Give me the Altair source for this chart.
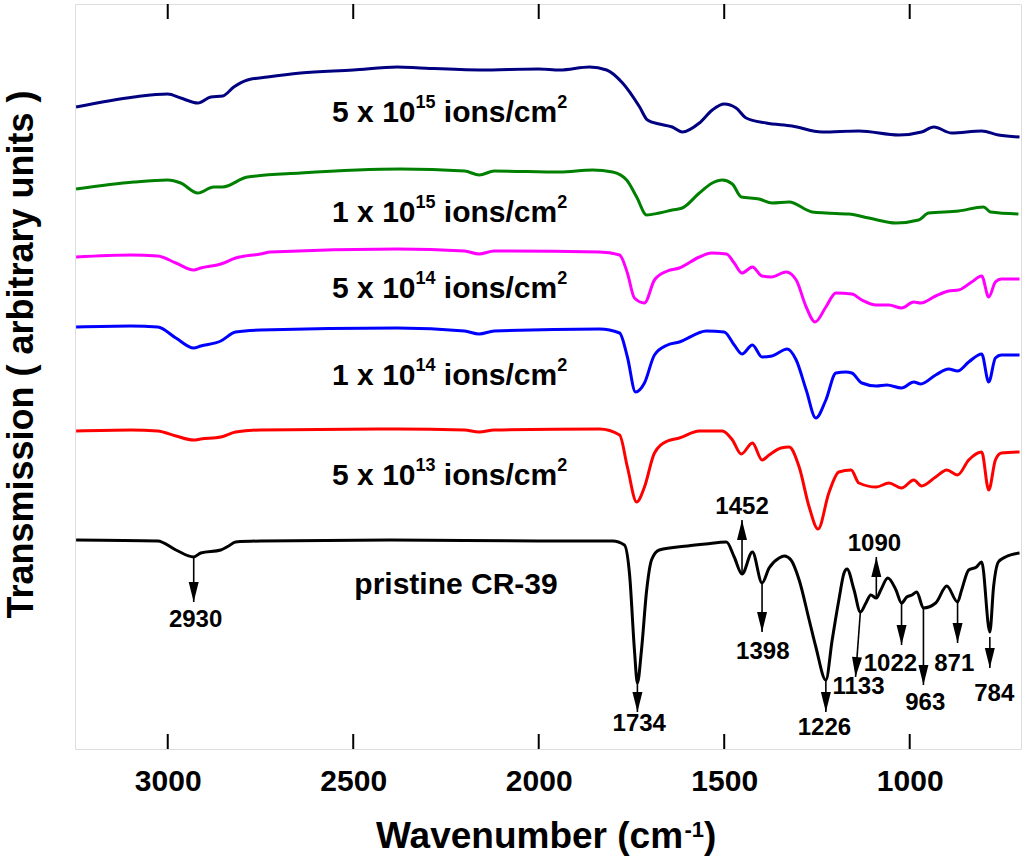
import math
import altair as alt
import pandas as pd

FONT = "Liberation Sans"
WN_MIN, WN_MAX = 700, 3250
PLOT_W, PLOT_H = 946, 745
PX_PER_WN = PLOT_W / (WN_MAX - WN_MIN)

# ---- spectra: wavenumber (cm-1) and transmission (arbitrary, stacked) ----
navy_wn = [3247, 3091, 3000, 2965, 2919, 2884, 2852, 2822, 2785, 2731, 2642, 2500, 2381, 2320, 2160, 2000,
           1943, 1863, 1817, 1774, 1728, 1707, 1675, 1640, 1613, 1567, 1532, 1500, 1468, 1441, 1387, 1317,
           1236, 1137, 1029, 968, 935, 887, 806, 761, 704]
navy_t = [642, 652, 655, 651, 646, 652, 653, 662, 669, 672, 676, 679, 682, 681, 679, 680,
          679, 682, 679, 666, 642, 629, 625, 622, 617, 626, 639, 645, 641, 631, 626, 623,
          617, 618, 614, 617, 622, 616, 618, 614, 612]

green_wn = [3247, 3091, 3000, 2965, 2919, 2876, 2852, 2785, 2642, 2373, 2200, 2160, 2120, 1943, 1855, 1801,
            1763, 1736, 1709, 1675, 1640, 1613, 1567, 1532, 1505, 1478, 1454, 1406, 1371, 1325, 1263, 1226,
            1164, 1110, 1037, 976, 949, 868, 801, 782, 707]
green_t = [560, 567, 569, 566, 556, 562, 562, 572, 576, 580, 578, 574, 578, 577, 579, 577,
           569, 552, 534, 536, 539, 541, 556, 566, 569, 565, 552, 550, 546, 547, 537, 536,
           535, 531, 526, 529, 536, 538, 542, 537, 535]

magenta_wn = [3247, 3100, 3027, 2978, 2930, 2911, 2857, 2817, 2750, 2723, 2381, 2200, 2161, 2120, 1836, 1782,
              1761, 1742, 1715, 1688, 1653, 1621, 1567, 1535, 1494, 1473, 1452, 1424, 1398, 1373, 1333, 1306,
              1279, 1255, 1226, 1199, 1156, 1129, 1090, 1056, 1022, 989, 970, 930, 895, 868, 833, 806,
              787, 769, 753, 704]
magenta_t = [492, 494, 493, 486, 479, 481, 485, 491, 495, 497, 500, 498, 495, 498, 497, 494,
             476, 451, 446, 469, 478, 481, 492, 496, 495, 486, 476, 482, 473, 472, 477, 469,
             442, 427, 442, 456, 455, 449, 444, 444, 441, 447, 446, 453, 458, 459, 467, 473,
             452, 467, 470, 470]

blue_wn = [3247, 3100, 3027, 2978, 2930, 2911, 2857, 2817, 2750, 2381, 2200, 2161, 2120, 1836, 1782, 1761,
           1739, 1715, 1688, 1653, 1621, 1548, 1500, 1473, 1452, 1424, 1398, 1371, 1330, 1306, 1279, 1253,
           1226, 1199, 1172, 1156, 1129, 1090, 1062, 1022, 989, 970, 930, 895, 871, 841, 806, 787,
           769, 753, 704]
blue_t = [422, 423, 422, 411, 401, 403, 408, 417, 419, 421, 418, 415, 418, 420, 416, 392,
          357, 366, 394, 404, 407, 418, 417, 404, 395, 404, 392, 393, 400, 389, 359, 331,
          349, 376, 377, 376, 366, 363, 364, 361, 367, 365, 374, 380, 378, 387, 395, 367,
          391, 394, 394]

red_wn = [3247, 3100, 3027, 2978, 2930, 2911, 2857, 2817, 2750, 2381, 2200, 2161, 2120, 1836, 1782, 1761,
          1736, 1715, 1688, 1653, 1621, 1567, 1505, 1478, 1454, 1424, 1398, 1379, 1347, 1325, 1298, 1271,
          1247, 1218, 1191, 1158, 1137, 1090, 1056, 1022, 989, 968, 930, 900, 871, 841, 806, 787,
          769, 753, 704]
red_t = [318, 319, 318, 313, 309, 310, 312, 317, 319, 320, 319, 317, 319, 320, 314, 282,
         247, 262, 296, 308, 311, 318, 318, 309, 295, 306, 289, 294, 301, 302, 282, 242,
         220, 256, 277, 279, 266, 262, 266, 261, 269, 263, 272, 279, 274, 289, 297, 259,
         289, 296, 297]

black_wn = [3247, 3027, 2978, 2930, 2911, 2857, 2836, 2817, 2750, 2400, 2000, 1801, 1769, 1755, 1742, 1734,
            1723, 1709, 1696, 1675, 1599, 1550, 1494, 1473, 1452, 1424, 1398, 1379, 1352, 1338, 1320, 1298,
            1271, 1253, 1226, 1209, 1191, 1177, 1169, 1150, 1133, 1118, 1105, 1090, 1078, 1059, 1037, 1022,
            1008, 994, 981, 963, 930, 900, 871, 860, 841, 820, 806, 784, 774, 761, 742, 704]
black_t = [209, 208, 199, 192, 196, 199, 203, 207, 208, 209, 208, 208, 204, 174, 99, 66,
           99, 159, 189, 199, 203, 205, 207, 192, 175, 197, 166, 181, 191, 193, 189, 169,
           129, 102, 69, 109, 149, 176, 180, 159, 137, 146, 154, 151, 159, 171, 159, 146,
           152, 154, 157, 141, 146, 163, 147, 159, 179, 182, 187, 117, 162, 187, 192, 196]

series_names = ["5e15", "1e15", "5e14", "1e14", "5e13", "pristine"]
series_colors = ["#000080", "#008000", "#FF00FF", "#0000FF", "#FF0000", "#000000"]
series_data = [(navy_wn, navy_t), (green_wn, green_t), (magenta_wn, magenta_t),
               (blue_wn, blue_t), (red_wn, red_t), (black_wn, black_t)]

# ---- fluence labels ----
label_coef = ["5", "1", "5", "1", "5"]
label_exp = ["15", "15", "14", "14", "13"]
label_wn = [2557, 2557, 2557, 2557, 2557]
label_t = [627, 527, 451, 364, 264]

# ---- band assignments (arrows on the pristine spectrum) ----
band_text = ["2930", "1734", "1452", "1398", "1226", "1133", "1090", "1022", "963", "871", "784"]
arrow_wn0 = [2930, 1734, 1452, 1398, 1226, 1133, 1090, 1022, 963, 871, 784]
arrow_t0 = [192, 66, 175, 166, 69, 137, 151, 146, 141, 147, 112]
arrow_wn1 = [2930, 1734, 1452, 1398, 1226, 1146, 1090, 1022, 963, 871, 784]
arrow_t1 = [147, 37, 229, 117, 37, 72, 192, 104, 64, 106, 81]
band_label_wn = [2925, 1729, 1452, 1396, 1230, 1138, 1095, 1052, 958, 880, 772]
band_label_t = [129, 25, 242, 97, 21, 62, 205, 85, 46, 85, 55]

tick_values = [3000, 2500, 2000, 1500, 1000]

# ---- tables ----
rows = []
for name, (wns, ts) in zip(series_names, series_data):
    for w, t in zip(wns, ts):
        rows.append({"series": name, "wn": w, "t": t})
spectra = pd.DataFrame(rows)

labels = pd.DataFrame({
    "wn": label_wn, "t": label_t,
    "lead": [c + " x 10" for c in label_coef],
    "exp": label_exp,
    "mid": ["ions/cm"] * len(label_coef),
    "sq": ["2"] * len(label_coef),
})

HEAD = 10  # half length of arrowhead in px
arrow_rows = []
for i in range(len(band_text)):
    dxp = -(arrow_wn1[i] - arrow_wn0[i]) * PX_PER_WN
    dyp = -(arrow_t1[i] - arrow_t0[i])
    n = math.hypot(dxp, dyp)
    ux, uy = dxp / n, dyp / n
    arrow_rows.append({
        "label": band_text[i],
        "wn0": arrow_wn0[i], "t0": arrow_t0[i],
        "wn1": arrow_wn1[i], "t1": arrow_t1[i],
        "hwn": arrow_wn1[i] + HEAD * ux / PX_PER_WN,
        "ht": arrow_t1[i] + HEAD * uy,
        "angle": math.degrees(math.atan2(-ux, uy)) % 360,
        "lwn": band_label_wn[i], "lt": band_label_t[i],
    })
arrows = pd.DataFrame(arrow_rows)
ticks = pd.DataFrame({"wn": tick_values})
one = pd.DataFrame({"k": [0]})

# ---- scales / axes ----
x_scale = alt.Scale(domain=[WN_MIN, WN_MAX], reverse=True, nice=False, zero=False)
y_scale = alt.Scale(domain=[0, PLOT_H], nice=False, zero=False)
x_axis = alt.Axis(values=tick_values, format="d", labelFont=FONT, labelFontSize=30,
                  labelFontWeight="bold", labelColor="black", labelBaseline="alphabetic",
                  labelPadding=41, labelFlush=False, ticks=False, tickSize=0,
                  domain=False, grid=False, title=None)
y_axis = alt.Axis(labels=False, ticks=False, tickSize=0, domain=False, grid=False,
                  title="Transmission ( arbitrary units )", titleFont=FONT, titleFontSize=36,
                  titleFontWeight="bold", titleColor="black", titleAngle=270,
                  titleAlign="center", titleBaseline="alphabetic", titleX=-43, titleY=350)


def X(field="wn"):
    return alt.X(f"{field}:Q", scale=x_scale, axis=x_axis)


def Y(field="t"):
    return alt.Y(f"{field}:Q", scale=y_scale, axis=y_axis)


lines = alt.Chart(spectra).mark_line(strokeWidth=3, interpolate="monotone").encode(
    x=X(), y=Y(),
    color=alt.Color("series:N", scale=alt.Scale(domain=series_names, range=series_colors), legend=None),
)

bottom_ticks = alt.Chart(ticks).mark_rule(color="black", strokeWidth=2).encode(
    x=X(), y=alt.value(PLOT_H), y2=alt.value(PLOT_H - 15))
top_ticks = alt.Chart(ticks).mark_rule(color="black", strokeWidth=2).encode(
    x=X(), y=alt.value(0), y2=alt.value(15))

txt = dict(font=FONT, fontWeight="bold", color="black", align="left", baseline="alphabetic")
W_LEAD = 2780 * 30 / 1000     # "5 x 10" in 30px bold
W_EXP = 1112 * 18 / 1000      # "15" in 18px bold
W_SPACE = 278 * 30 / 1000     # word space in 30px bold
W_MID = 3779 * 30 / 1000      # "ions/cm" in 30px bold
lead = alt.Chart(labels).mark_text(fontSize=30, **txt).encode(x=X(), y=Y(), text="lead:N")
exp = alt.Chart(labels).mark_text(fontSize=18, dx=W_LEAD, dy=-14, **txt).encode(x=X(), y=Y(), text="exp:N")
mid = alt.Chart(labels).mark_text(fontSize=30, dx=W_LEAD + W_EXP + W_SPACE, **txt).encode(
    x=X(), y=Y(), text="mid:N")
sq = alt.Chart(labels).mark_text(fontSize=18, dx=W_LEAD + W_EXP + W_SPACE + W_MID, dy=-14, **txt).encode(
    x=X(), y=Y(), text="sq:N")

pristine = alt.Chart(pd.DataFrame({"wn": [2497], "t": [155], "s": ["pristine CR-39"]})).mark_text(
    fontSize=30, **txt).encode(x=X(), y=Y(), text="s:N")

shafts = alt.Chart(arrows).mark_rule(color="black", strokeWidth=1.6).encode(
    x=X("wn0"), x2="wn1:Q", y=Y("t0"), y2="t1:Q")
heads = alt.Chart(arrows).mark_point(shape="M-0.5,-1L0.5,-1L0,1Z", filled=True, size=400,
                                     color="black", opacity=1, strokeWidth=0).encode(
    x=X("hwn"), y=Y("ht"), angle=alt.Angle("angle:Q", scale=None))
band_labels = alt.Chart(arrows).mark_text(font=FONT, fontWeight="bold", fontSize=24, color="black",
                                          align="center", baseline="middle").encode(
    x=X("lwn"), y=Y("lt"), text="label:N")

# x-axis title with superscript
title_x0 = 301
t1 = alt.Chart(one).mark_text(fontSize=37, **txt).encode(
    x=alt.value(title_x0), y=alt.value(844), text=alt.value("Wavenumber (cm"))
t2 = alt.Chart(one).mark_text(fontSize=22, **txt).encode(
    x=alt.value(title_x0 + 8335 * 37 / 1000), y=alt.value(833), text=alt.value("-1"))
t3 = alt.Chart(one).mark_text(fontSize=37, **txt).encode(
    x=alt.value(title_x0 + 8335 * 37 / 1000 + 889 * 22 / 1000), y=alt.value(844), text=alt.value(")"))

chart = alt.layer(
    lines, bottom_ticks, top_ticks, lead, exp, mid, sq, pristine,
    shafts, heads, band_labels, t1, t2, t3,
).properties(
    width=PLOT_W, height=PLOT_H,
    autosize=alt.AutoSizeParams(type="none"),
    padding={"left": 75, "top": 4, "right": 4, "bottom": 108},
).configure_view(
    stroke="black", strokeWidth=2,
).configure(background="white")

chart.save("out.html", embed_options={"renderer": "svg", "actions": False})
